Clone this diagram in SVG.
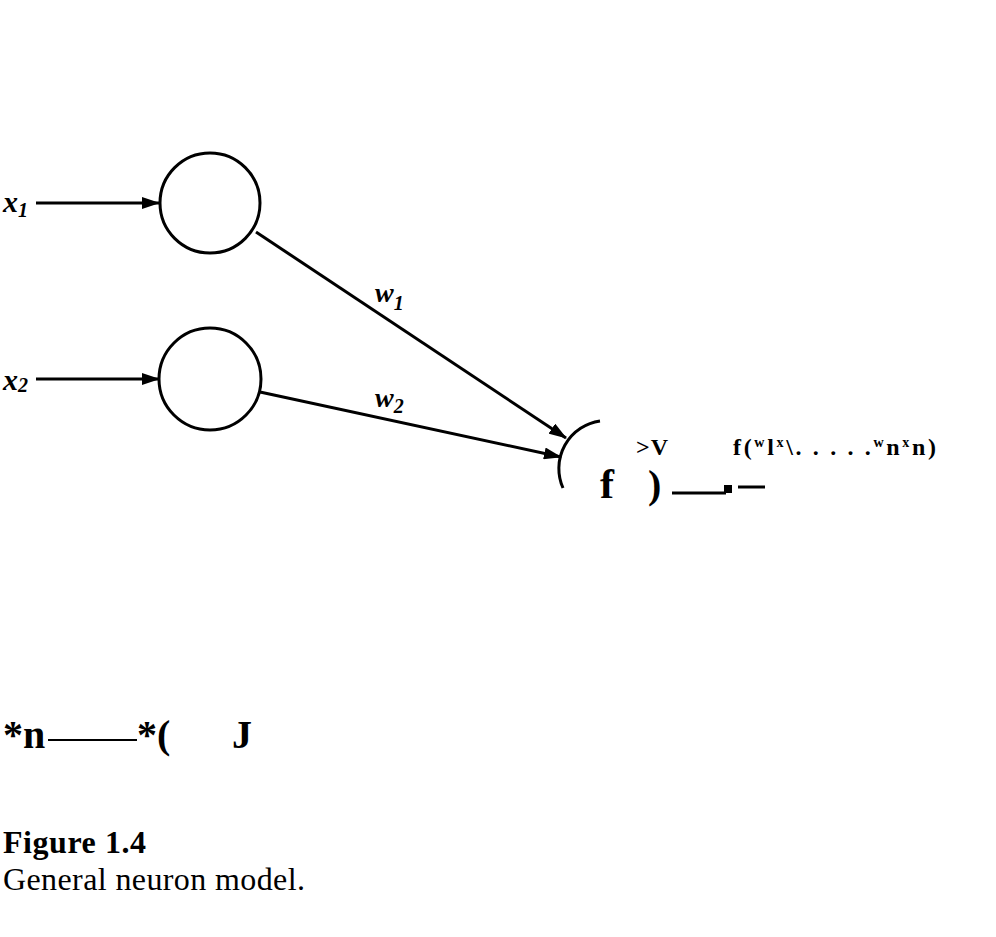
<svg xmlns="http://www.w3.org/2000/svg" width="996" height="937" viewBox="0 0 996 937">
<style>
.s{fill:none;stroke:#000;stroke-width:3}
.t{font-family:"Liberation Serif",serif;fill:#000}
.b{font-weight:bold}
.i{font-style:italic;font-weight:bold}
</style>
<defs>
<marker id="a2" markerWidth="18" markerHeight="12" refX="17" refY="6" orient="auto" markerUnits="userSpaceOnUse" viewBox="0 0 18 12"><path d="M0,0L18,6L0,12z"/></marker></defs>
<rect width="996" height="937" fill="#fff"/>
<g id="n1"><circle class="s" cx="210" cy="203" r="50"/></g>
<g id="n2"><circle class="s" cx="210" cy="379" r="51"/></g>
<g id="sum"><path class="s" d="M600,421 A48,48 0 0 0 563,488"/></g>
<g id="connectors">
<line class="s" x1="36" y1="203" x2="159" y2="203" marker-end="url(#a2)"/>
<line class="s" x1="36" y1="379" x2="159" y2="379" marker-end="url(#a2)"/>
<line class="s" x1="256" y1="232" x2="566" y2="438" marker-end="url(#a2)"/>
<line class="s" x1="260" y1="392" x2="561" y2="457" marker-end="url(#a2)"/>
<line class="s" x1="672" y1="493" x2="726" y2="493"/>
<rect x="724" y="485" width="8" height="8"/>
<line class="s" x1="738" y1="487" x2="765" y2="487"/>
<line x1="48" y1="740" x2="137" y2="740" stroke="#000" stroke-width="2"/>
</g>
<g id="labels">
<text class="t i" x="3" y="212" font-size="30">x<tspan font-size="20" dy="5">1</tspan></text>
<text class="t i" x="3" y="390" font-size="30">x<tspan font-size="20" dy="2">2</tspan></text>
<text class="t i" x="375" y="302" font-size="28">w<tspan font-size="20" dy="8">1</tspan></text>
<text class="t i" x="375" y="407" font-size="28">w<tspan font-size="20" dy="6">2</tspan></text>
<text class="t b" x="636" y="455" font-size="24" textLength="32">&gt;V</text>
<text class="t b" x="733" y="455" font-size="24" textLength="203">f(<tspan font-size="14" dy="-8">w</tspan><tspan dy="8">l</tspan><tspan font-size="14" dy="-8">x</tspan><tspan dy="8">\. . . . .</tspan><tspan font-size="14" dy="-8">w</tspan><tspan dy="8">n</tspan><tspan font-size="14" dy="-8">x</tspan><tspan dy="8">n)</tspan></text>
<text class="t b" x="600" y="498" font-size="42">f</text>
<text class="t b" x="648" y="498" font-size="40">)</text>
<text class="t b" x="3" y="748" font-size="40">*n</text>
<text class="t b" x="137" y="748" font-size="40">*(</text>
<text class="t b" x="232" y="748" font-size="40">J</text>
<text class="t b" x="3" y="853" font-size="32" textLength="143">Figure 1.4</text>
<text class="t" x="3" y="890" font-size="32" textLength="302">General neuron model.</text>
</g>
</svg>
